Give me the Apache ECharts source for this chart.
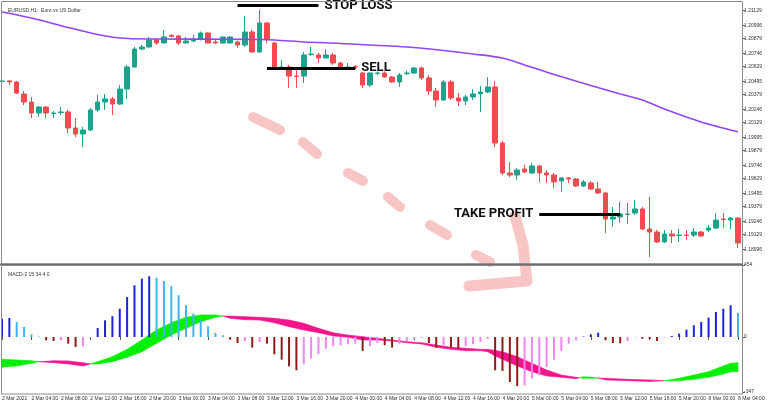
<!DOCTYPE html>
<html>
<head>
<meta charset="utf-8">
<script src="https://cdn.jsdelivr.net/npm/echarts@6.0.0/dist/echarts.min.js"></script>
<style>
  html, body { margin: 0; padding: 0; background: #fff; }
  #chart { width: 768px; height: 406px; }
</style>
</head>
<body>
<div id="chart"></div>
<script>
// EURUSD H1, 2 Mar 2021 00:00 .. 8 Mar 2021 04:00 (101 bars)
const days = ['2 Mar', '3 Mar', '4 Mar', '5 Mar', '8 Mar'];
const categories = [];
days.forEach(d => {
  for (let h = 0; h < 24; h++) {
    if (d === '8 Mar' && h > 4) break;
    categories.push(d + ' ' + String(h).padStart(2, '0') + ':00');
  }
});

const xLabels = ['2 Mar 2021', '2 Mar 04:00', '2 Mar 08:00', '2 Mar 12:00', '2 Mar 16:00', '2 Mar 20:00',
  '3 Mar 00:00', '3 Mar 04:00', '3 Mar 08:00', '3 Mar 12:00', '3 Mar 16:00', '3 Mar 20:00',
  '4 Mar 00:00', '4 Mar 04:00', '4 Mar 08:00', '4 Mar 12:00', '4 Mar 16:00', '4 Mar 20:00',
  '5 Mar 00:00', '5 Mar 04:00', '5 Mar 08:00', '5 Mar 12:00', '5 Mar 16:00', '5 Mar 20:00',
  '8 Mar 00:00', '8 Mar 04:00'];

const priceTicks = [1.18996, 1.19129, 1.19246, 1.19379, 1.19495, 1.19629, 1.19746, 1.19879, 1.19995,
  1.20129, 1.20246, 1.20379, 1.20495, 1.20629, 1.20746, 1.20879, 1.20996, 1.21129];
const macdTicks = [-347, 0, 454];

const opens = [1.20495, 1.20500, 1.20491, 1.20384, 1.20312, 1.20214, 1.20267, 1.20209, 1.20218, 1.20223,
  1.20080, 1.20026, 1.20062, 1.20241, 1.20312, 1.20339, 1.20294, 1.20428, 1.20625, 1.20785,
  1.20803, 1.20866, 1.20839, 1.20906, 1.20902, 1.20839, 1.20857, 1.20875, 1.20928, 1.20848,
  1.20839, 1.20839, 1.20848, 1.20821, 1.20937, 1.20759, 1.21018, 1.20839, 1.20620, 1.20625,
  1.20544, 1.20544, 1.20736, 1.20732, 1.20705, 1.20732, 1.20660, 1.20620, 1.20629, 1.20571,
  1.20464, 1.20567, 1.20571, 1.20535, 1.20491, 1.20567, 1.20571, 1.20616, 1.20527, 1.20410,
  1.20330, 1.20491, 1.20348, 1.20321, 1.20357, 1.20384, 1.20401, 1.20446, 1.19946, 1.19678,
  1.19660, 1.19714, 1.19678, 1.19741, 1.19678, 1.19660, 1.19607, 1.19634, 1.19625, 1.19562,
  1.19589, 1.19535, 1.19500, 1.19267, 1.19285, 1.19308, 1.19321, 1.19357, 1.19178, 1.19151,
  1.19062, 1.19133, 1.19120, 1.19124, 1.19124, 1.19151, 1.19169, 1.19187, 1.19267, 1.19258,
  1.19276];
const closes = [1.20500, 1.20491, 1.20392, 1.20312, 1.20214, 1.20267, 1.20214, 1.20214, 1.20223, 1.20080,
  1.20026, 1.20062, 1.20241, 1.20312, 1.20339, 1.20294, 1.20428, 1.20625, 1.20785, 1.20803,
  1.20866, 1.20839, 1.20893, 1.20897, 1.20839, 1.20857, 1.20875, 1.20928, 1.20839, 1.20839,
  1.20893, 1.20893, 1.20821, 1.20937, 1.20759, 1.21018, 1.20875, 1.20625, 1.20625, 1.20544,
  1.20540, 1.20732, 1.20741, 1.20705, 1.20732, 1.20660, 1.20625, 1.20625, 1.20625, 1.20464,
  1.20571, 1.20571, 1.20535, 1.20491, 1.20553, 1.20571, 1.20616, 1.20527, 1.20410, 1.20330,
  1.20491, 1.20348, 1.20321, 1.20357, 1.20384, 1.20401, 1.20446, 1.19946, 1.19678, 1.19660,
  1.19705, 1.19687, 1.19741, 1.19678, 1.19660, 1.19598, 1.19634, 1.19625, 1.19562, 1.19598,
  1.19535, 1.19500, 1.19267, 1.19285, 1.19312, 1.19312, 1.19357, 1.19178, 1.19151, 1.19062,
  1.19133, 1.19116, 1.19124, 1.19120, 1.19151, 1.19116, 1.19187, 1.19258, 1.19263, 1.19276,
  1.19053];
const lows = [1.20491, 1.20464, 1.20384, 1.20285, 1.20169, 1.20178, 1.20169, 1.20169, 1.20196, 1.20035,
  1.19999, 1.19910, 1.20053, 1.20223, 1.20241, 1.20196, 1.20285, 1.20339, 1.20616, 1.20777,
  1.20799, 1.20821, 1.20835, 1.20893, 1.20821, 1.20835, 1.20844, 1.20861, 1.20835, 1.20830,
  1.20830, 1.20835, 1.20794, 1.20803, 1.20750, 1.20750, 1.20839, 1.20616, 1.20598, 1.20437,
  1.20437, 1.20482, 1.20723, 1.20660, 1.20701, 1.20643, 1.20616, 1.20598, 1.20607, 1.20437,
  1.20446, 1.20553, 1.20527, 1.20482, 1.20446, 1.20553, 1.20562, 1.20509, 1.20375, 1.20267,
  1.20321, 1.20330, 1.20276, 1.20285, 1.20330, 1.20223, 1.20392, 1.19910, 1.19660, 1.19642,
  1.19616, 1.19678, 1.19669, 1.19598, 1.19589, 1.19544, 1.19508, 1.19589, 1.19553, 1.19553,
  1.19526, 1.19491, 1.19142, 1.19196, 1.19232, 1.19223, 1.19303, 1.19169, 1.18928, 1.19053,
  1.19053, 1.19053, 1.19062, 1.19080, 1.19107, 1.19107, 1.19151, 1.19178, 1.19187, 1.19178,
  1.19008];
const highs = [1.20509, 1.20509, 1.20500, 1.20410, 1.20357, 1.20276, 1.20276, 1.20232, 1.20267, 1.20241,
  1.20169, 1.20089, 1.20259, 1.20375, 1.20384, 1.20357, 1.20464, 1.20643, 1.20803, 1.20821,
  1.20893, 1.20875, 1.20955, 1.20919, 1.20910, 1.20893, 1.20910, 1.20942, 1.20933, 1.20866,
  1.20897, 1.20897, 1.20861, 1.21080, 1.20955, 1.21134, 1.21027, 1.20848, 1.20687, 1.20643,
  1.20598, 1.20759, 1.20803, 1.20750, 1.20785, 1.20750, 1.20669, 1.20660, 1.20643, 1.20580,
  1.20580, 1.20585, 1.20585, 1.20544, 1.20571, 1.20593, 1.20625, 1.20629, 1.20553, 1.20437,
  1.20509, 1.20509, 1.20392, 1.20375, 1.20428, 1.20455, 1.20535, 1.20500, 1.19964, 1.19776,
  1.19723, 1.19750, 1.19767, 1.19750, 1.19705, 1.19678, 1.19642, 1.19642, 1.19634, 1.19616,
  1.19607, 1.19598, 1.19508, 1.19375, 1.19419, 1.19410, 1.19437, 1.19375, 1.19464, 1.19169,
  1.19169, 1.19169, 1.19178, 1.19169, 1.19187, 1.19160, 1.19214, 1.19321, 1.19321, 1.19285,
  1.19285];

// moving average, read at a few bars
const maIdx = [0, 4, 9, 13, 16, 20, 32, 37, 41, 46, 50, 55, 60, 64, 68, 71, 75, 80, 84, 87, 90, 95, 100];
const maVal = [1.21116, 1.21062, 1.20977, 1.20915, 1.20884, 1.20875, 1.20872, 1.20866, 1.20848, 1.20835,
  1.20821, 1.20803, 1.20772, 1.20741, 1.20705, 1.20643, 1.20558, 1.20459, 1.20384, 1.20330,
  1.20250, 1.20134, 1.20047];

// trade levels
const stopLoss = { price: 1.21174, from: 32, to: 43 };
const sellLevel = { price: 1.20616, from: 36, to: 48 };
const takeProfit = { price: 1.19312, from: 73, to: 84 };

// MACD histogram, one per bar
const macdHist = [115, 120, 95, 63, 17, 3, -21, -25, -21, -42,
  -63, -59, -6, 57, 105, 131, 178, 252, 326, 368,
  383, 374, 353, 320, 263, 200, 147, 105, 67, 25,
  11, -17, -38, -27, -67, -32, -42, -109, -143, -185,
  -210, -172, -137, -109, -74, -59, -52, -46, -42, -88,
  -59, -38, -52, -67, -42, -25, -11, -6, -38, -67,
  -52, -67, -74, -59, -46, -32, -13, -210, -214, -284,
  -309, -305, -263, -242, -189, -143, -88, -42, -21, 3,
  17, 27, -21, -38, -40, -25, -3, -11, -12, -25,
  -3, 6, 21, 46, 74, 95, 122, 158, 178, 200,
  151];

// MACD / signal lines (ribbon), read at a few bars
const ribbonIdx = [0, 2, 4, 5, 7, 9, 11, 12, 13, 15, 17, 19, 21, 23, 25, 27, 29, 30, 31, 33,
  35, 37, 39, 41, 43, 45, 47, 49, 51, 53, 55, 57, 59, 61, 63, 65, 66, 67, 68, 70,
  72, 74, 76, 78, 79, 80, 81, 82, 85, 88, 90, 92, 94, 96, 98, 99, 100];
const macdLine = [-141, -145, -150, -156, -162, -170, -183, -170, -156, -124, -78, -19, 44, 90, 124, 139, 139, 132, 118, 109,
  107, 90, 65, 44, 27, 6, -2, -19, -19, -25, -36, -44, -65, -78, -87, -87, -93, -120, -141, -183,
  -219, -246, -254, -263, -251, -253, -259, -271, -276, -280, -276, -261, -240, -219, -183, -166, -162];
const signalLine = [-191, -183, -166, -156, -150, -151, -162, -170, -170, -156, -128, -93, -40, 12, 55, 96, 124, 132, 132, 128,
  124, 118, 107, 86, 55, 27, 12, 2, -8, -19, -30, -36, -51, -65, -71, -78, -78, -85, -93, -124,
  -166, -208, -240, -254, -261, -260, -259, -261, -267, -271, -276, -276, -267, -254, -234, -219, -219];

const BULL = '#1fa28c';
const BEAR = '#ef4b50';
const RIB_UP = '#00f000';
const RIB_DN = '#f5148c';

const candleData = opens.map((o, i) => [o, closes[i], lows[i], highs[i]]);

function histColor(i) {
  const v = macdHist[i];
  const p = i > 0 ? macdHist[i - 1] : v;
  if (v >= 0) return v >= p ? '#2020d6' : '#3cb6f5';
  return v <= p ? '#8e1b1b' : '#ee86ee';
}
const histData = macdHist.map((v, i) => ({ value: v, itemStyle: { color: histColor(i) } }));

function renderRibbon(params, api) {
  const k = params.dataIndex;
  if (k >= ribbonIdx.length - 1) return null;
  const a0 = api.coord([ribbonIdx[k], macdLine[k]]);
  const b0 = api.coord([ribbonIdx[k], signalLine[k]]);
  const a1 = api.coord([ribbonIdx[k + 1], macdLine[k + 1]]);
  const b1 = api.coord([ribbonIdx[k + 1], signalLine[k + 1]]);
  const d0 = macdLine[k] - signalLine[k];
  const d1 = macdLine[k + 1] - signalLine[k + 1];
  const col = d => (d >= 0 ? RIB_UP : RIB_DN);
  const poly = (pts, c) => ({ type: 'polygon', shape: { points: pts }, style: { fill: c, stroke: c, lineWidth: 0.6 } });
  if (d0 * d1 < 0) {
    const t = d0 / (d0 - d1);
    const c = [a0[0] + t * (a1[0] - a0[0]), a0[1] + t * (a1[1] - a0[1])];
    return { type: 'group', children: [poly([a0, c, b0], col(d0)), poly([c, a1, b1], col(d1))] };
  }
  return poly([a0, a1, b1, b0], col(d0 !== 0 ? d0 : d1));
}

function level(l, text, pos) {
  return [
    { coord: [l.from, l.price], label: { show: true, position: pos, formatter: text } },
    { coord: [l.to, l.price] }
  ];
}

const labelFont = { fontFamily: 'Liberation Sans', fontSize: 5, color: '#333' };

// hand-drawn pink arrow
const arrowColor = 'rgba(242,140,140,0.5)';
const dashes = [[253, 117, 280, 130], [303, 142, 317, 154], [348, 173, 363, 181],
  [388, 197, 400, 207], [430, 225, 447, 235], [476, 255, 490, 262]];

const chart = echarts.init(document.getElementById('chart'), null, { renderer: 'canvas' });

const option = {
  animation: false,
  backgroundColor: '#ffffff',
  title: [
    { text: 'EURUSD,H1:  Euro vs US Dollar', left: 3, top: 3, textStyle: { fontFamily: 'Liberation Sans', fontSize: 5, fontWeight: 'normal', color: '#333' } },
    { text: 'MACD-2 15 34 4.0', left: 3, top: 267, textStyle: { fontFamily: 'Liberation Sans', fontSize: 5, fontWeight: 'normal', color: '#333' } }
  ],
  grid: [
    { left: 2, right: 30, top: 2, height: 262, outerBoundsMode: 'none' },
    { left: 2, right: 30, top: 265, height: 127, outerBoundsMode: 'none' }
  ],
  xAxis: [
    {
      type: 'category', gridIndex: 0, data: categories, boundaryGap: false,
      axisLine: { show: false }, axisTick: { show: false }, axisLabel: { show: false }, splitLine: { show: false }
    },
    {
      type: 'category', gridIndex: 1, data: categories, boundaryGap: false,
      axisLine: { show: false },
      axisTick: { show: true, interval: 3, length: 3, lineStyle: { color: '#555' } },
      axisLabel: Object.assign({ interval: 3, align: 'left', margin: 4, formatter: (v, i) => xLabels[i / 4] || '' }, labelFont),
      splitLine: { show: false }
    }
  ],
  yAxis: [
    {
      type: 'value', gridIndex: 0, position: 'right', offset: 4, min: 1.188655, max: 1.21205, scale: true,
      axisLine: { show: false }, splitLine: { show: false },
      axisTick: { show: true, length: 3, customValues: priceTicks, lineStyle: { color: '#555' } },
      axisLabel: Object.assign({ customValues: priceTicks, margin: 2, formatter: v => v.toFixed(5) }, labelFont)
    },
    {
      type: 'value', gridIndex: 1, position: 'right', offset: 4, min: -347, max: 454,
      axisLine: { show: false }, splitLine: { show: false },
      axisTick: { show: true, length: 3, customValues: macdTicks, lineStyle: { color: '#555' } },
      axisLabel: Object.assign({ customValues: macdTicks, margin: 2, formatter: v => String(v) }, labelFont)
    }
  ],
  series: [
    {
      name: 'EURUSD', type: 'candlestick', xAxisIndex: 0, yAxisIndex: 0,
      data: candleData, barWidth: 5, z: 3,
      itemStyle: { color: BULL, color0: BEAR, borderColor: BULL, borderColor0: BEAR, borderWidth: 1 },
      markLine: {
        silent: true, symbol: ['none', 'none'], animation: false,
        lineStyle: { color: '#000', width: 3, type: 'solid' },
        label: { fontFamily: 'Roboto', fontWeight: 'bold', fontSize: 13, color: '#111', distance: 6 },
        emphasis: { disabled: true },
        data: [
          level(stopLoss, 'STOP LOSS', 'end'),
          level(sellLevel, 'SELL', 'end'),
          level(takeProfit, 'TAKE PROFIT', 'start')
        ]
      }
    },
    {
      name: 'MA', type: 'line', xAxisIndex: 0, yAxisIndex: 0,
      data: maIdx.map((x, k) => [x, maVal[k]]),
      showSymbol: false, smooth: 0.3, z: 4,
      lineStyle: { color: '#9146f5', width: 1.6 }
    },
    {
      name: 'MACD hist', type: 'bar', xAxisIndex: 1, yAxisIndex: 1,
      data: histData, barWidth: 2, z: 3
    },
    {
      name: 'MACD ribbon', type: 'custom', xAxisIndex: 1, yAxisIndex: 1,
      data: ribbonIdx.map((x, k) => [x, macdLine[k], signalLine[k]]),
      encode: { x: 0, y: [1, 2] },
      renderItem: renderRibbon, z: 2
    }
  ],
  graphic: [
    // panel frames
    { type: 'rect', z: 50, silent: true, shape: { x: 1.5, y: 1.5, width: 741, height: 262.5 }, style: { fill: null, stroke: '#8a8a8a', lineWidth: 1 } },
    { type: 'line', z: 50, silent: true, shape: { x1: 0, y1: 264.5, x2: 743, y2: 264.5 }, style: { stroke: '#6e6e6e', lineWidth: 2 } },
    { type: 'rect', z: 50, silent: true, shape: { x: 1.5, y: 265.5, width: 741, height: 128.5 }, style: { fill: null, stroke: '#8a8a8a', lineWidth: 1 } },
    // pink arrow
    {
      type: 'group', z: 1, silent: true,
      children: dashes.map(d => ({
        type: 'line', shape: { x1: d[0], y1: d[1], x2: d[2], y2: d[3] },
        style: { stroke: arrowColor, lineWidth: 10, lineCap: 'round' }
      })).concat([{
        type: 'polyline', shape: { points: [[515, 216], [523, 245], [527, 281], [469, 286]] },
        style: { stroke: arrowColor, lineWidth: 11, lineCap: 'round', lineJoin: 'round', fill: null }
      }])
    }
  ]
};

chart.setOption(option);
</script>
</body>
</html>
